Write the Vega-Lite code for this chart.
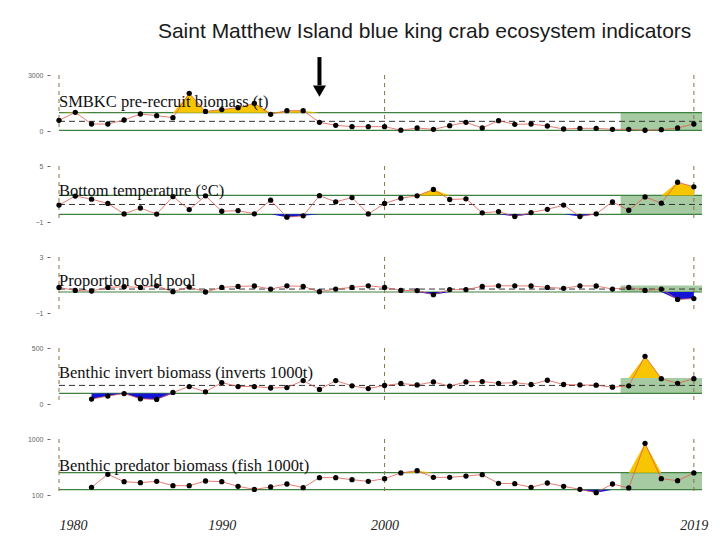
{
  "$schema": "https://vega.github.io/schema/vega-lite/v6.json",
  "description": "Saint Matthew Island blue king crab ecosystem indicators, five stacked panels.",
  "background": "white",
  "padding": {"left": 27, "top": 21, "right": 5, "bottom": 5},
  "title": {
    "text": "Saint Matthew Island blue king crab ecosystem indicators",
    "font": "Liberation Sans",
    "fontSize": 21,
    "fontWeight": "normal",
    "color": "#1a1a1a",
    "anchor": "middle",
    "dx": 57,
    "offset": 13
  },
  "config": {
    "view": {"stroke": null},
    "axisY": {
      "domain": false,
      "grid": false,
      "title": null,
      "format": "d",
      "labelFont": "Liberation Sans",
      "labelFontSize": 7,
      "labelColor": "#666",
      "tickColor": "#666",
      "tickSize": 3,
      "labelPadding": 4,
      "offset": 9
    }
  },
  "datasets": {
    "bands": [
      {"id": "smbkc", "label": "SMBKC pre-recruit biomass (t)", "lower": 30, "mean": 518, "upper": 982},
      {"id": "temp", "label": "Bottom temperature (°C)", "lower": -0.18, "mean": 0.88, "upper": 1.85},
      {"id": "cold", "label": "Proportion cold pool", "lower": 0.5, "mean": 0.71, "upper": 0.96},
      {"id": "invert", "label": "Benthic invert biomass (inverts 1000t)", "lower": 94, "mean": 166, "upper": 232},
      {"id": "pred", "label": "Benthic predator biomass (fish 1000t)", "lower": 186, "mean": 322, "upper": 459}
    ],
    "marks": [{"year": 1980}, {"year": 2000}, {"year": 2019}],
    "series": [
      {"id": "smbkc", "year": 1980, "value": 571}, {"id": "smbkc", "year": 1981, "value": 1000},
      {"id": "smbkc", "year": 1982, "value": 375}, {"id": "smbkc", "year": 1983, "value": 375},
      {"id": "smbkc", "year": 1984, "value": 589}, {"id": "smbkc", "year": 1985, "value": 911},
      {"id": "smbkc", "year": 1986, "value": 821}, {"id": "smbkc", "year": 1987, "value": 714},
      {"id": "smbkc", "year": 1988, "value": 2018}, {"id": "smbkc", "year": 1989, "value": 1050},
      {"id": "smbkc", "year": 1990, "value": 1150}, {"id": "smbkc", "year": 1991, "value": 1250},
      {"id": "smbkc", "year": 1992, "value": 1480}, {"id": "smbkc", "year": 1993, "value": 893},
      {"id": "smbkc", "year": 1994, "value": 1089}, {"id": "smbkc", "year": 1995, "value": 1089},
      {"id": "smbkc", "year": 1996, "value": 464}, {"id": "smbkc", "year": 1997, "value": 304},
      {"id": "smbkc", "year": 1998, "value": 232}, {"id": "smbkc", "year": 1999, "value": 232},
      {"id": "smbkc", "year": 2000, "value": 232}, {"id": "smbkc", "year": 2001, "value": 45},
      {"id": "smbkc", "year": 2002, "value": 161}, {"id": "smbkc", "year": 2003, "value": 89},
      {"id": "smbkc", "year": 2004, "value": 286}, {"id": "smbkc", "year": 2005, "value": 464},
      {"id": "smbkc", "year": 2006, "value": 161}, {"id": "smbkc", "year": 2007, "value": 554},
      {"id": "smbkc", "year": 2008, "value": 357}, {"id": "smbkc", "year": 2009, "value": 375},
      {"id": "smbkc", "year": 2010, "value": 268}, {"id": "smbkc", "year": 2011, "value": 107},
      {"id": "smbkc", "year": 2012, "value": 143}, {"id": "smbkc", "year": 2013, "value": 143},
      {"id": "smbkc", "year": 2014, "value": 89}, {"id": "smbkc", "year": 2015, "value": 89},
      {"id": "smbkc", "year": 2016, "value": 40}, {"id": "smbkc", "year": 2017, "value": 71},
      {"id": "smbkc", "year": 2018, "value": 161}, {"id": "smbkc", "year": 2019, "value": 375},

      {"id": "temp", "year": 1980, "value": 0.81}, {"id": "temp", "year": 1981, "value": 1.78},
      {"id": "temp", "year": 1982, "value": 1.44}, {"id": "temp", "year": 1983, "value": 0.99},
      {"id": "temp", "year": 1984, "value": -0.13}, {"id": "temp", "year": 1985, "value": 0.5},
      {"id": "temp", "year": 1986, "value": -0.15}, {"id": "temp", "year": 1987, "value": 1.72},
      {"id": "temp", "year": 1988, "value": 0.33}, {"id": "temp", "year": 1989, "value": 1.8},
      {"id": "temp", "year": 1990, "value": 0.15}, {"id": "temp", "year": 1991, "value": 0.22},
      {"id": "temp", "year": 1992, "value": -0.12}, {"id": "temp", "year": 1993, "value": 1.34},
      {"id": "temp", "year": 1994, "value": -0.48}, {"id": "temp", "year": 1995, "value": -0.34},
      {"id": "temp", "year": 1996, "value": 1.82}, {"id": "temp", "year": 1997, "value": 1.16},
      {"id": "temp", "year": 1998, "value": 1.62}, {"id": "temp", "year": 1999, "value": -0.14},
      {"id": "temp", "year": 2000, "value": 0.99}, {"id": "temp", "year": 2001, "value": 1.55},
      {"id": "temp", "year": 2002, "value": 1.8}, {"id": "temp", "year": 2003, "value": 2.49},
      {"id": "temp", "year": 2004, "value": 1.41}, {"id": "temp", "year": 2005, "value": 1.48},
      {"id": "temp", "year": 2006, "value": -0.02}, {"id": "temp", "year": 2007, "value": 0.12},
      {"id": "temp", "year": 2008, "value": -0.41}, {"id": "temp", "year": 2009, "value": 0.01},
      {"id": "temp", "year": 2010, "value": 0.36}, {"id": "temp", "year": 2011, "value": 0.81},
      {"id": "temp", "year": 2012, "value": -0.41}, {"id": "temp", "year": 2013, "value": -0.12},
      {"id": "temp", "year": 2014, "value": 1.16}, {"id": "temp", "year": 2015, "value": 0.26},
      {"id": "temp", "year": 2016, "value": 1.69}, {"id": "temp", "year": 2017, "value": 1.02},
      {"id": "temp", "year": 2018, "value": 3.26}, {"id": "temp", "year": 2019, "value": 2.77},

      {"id": "cold", "year": 1980, "value": 0.83}, {"id": "cold", "year": 1981, "value": 0.61},
      {"id": "cold", "year": 1982, "value": 0.57}, {"id": "cold", "year": 1983, "value": 0.83},
      {"id": "cold", "year": 1984, "value": 0.88}, {"id": "cold", "year": 1985, "value": 0.83},
      {"id": "cold", "year": 1986, "value": 0.94}, {"id": "cold", "year": 1987, "value": 0.52},
      {"id": "cold", "year": 1988, "value": 0.86}, {"id": "cold", "year": 1989, "value": 0.5},
      {"id": "cold", "year": 1990, "value": 0.83}, {"id": "cold", "year": 1991, "value": 0.9},
      {"id": "cold", "year": 1992, "value": 0.93}, {"id": "cold", "year": 1993, "value": 0.71},
      {"id": "cold", "year": 1994, "value": 0.94}, {"id": "cold", "year": 1995, "value": 0.9},
      {"id": "cold", "year": 1996, "value": 0.52}, {"id": "cold", "year": 1997, "value": 0.71},
      {"id": "cold", "year": 1998, "value": 0.83}, {"id": "cold", "year": 1999, "value": 0.94},
      {"id": "cold", "year": 2000, "value": 0.83}, {"id": "cold", "year": 2001, "value": 0.61},
      {"id": "cold", "year": 2002, "value": 0.6}, {"id": "cold", "year": 2003, "value": 0.31},
      {"id": "cold", "year": 2004, "value": 0.67}, {"id": "cold", "year": 2005, "value": 0.67},
      {"id": "cold", "year": 2006, "value": 0.9}, {"id": "cold", "year": 2007, "value": 0.94},
      {"id": "cold", "year": 2008, "value": 0.94}, {"id": "cold", "year": 2009, "value": 0.93},
      {"id": "cold", "year": 2010, "value": 0.83}, {"id": "cold", "year": 2011, "value": 0.76},
      {"id": "cold", "year": 2012, "value": 0.94}, {"id": "cold", "year": 2013, "value": 0.93},
      {"id": "cold", "year": 2014, "value": 0.71}, {"id": "cold", "year": 2015, "value": 0.83},
      {"id": "cold", "year": 2016, "value": 0.61}, {"id": "cold", "year": 2017, "value": 0.71},
      {"id": "cold", "year": 2018, "value": -0.03}, {"id": "cold", "year": 2019, "value": 0.03},

      {"id": "invert", "year": 1982, "value": 44}, {"id": "invert", "year": 1983, "value": 71},
      {"id": "invert", "year": 1984, "value": 93}, {"id": "invert", "year": 1985, "value": 47},
      {"id": "invert", "year": 1986, "value": 41}, {"id": "invert", "year": 1987, "value": 103},
      {"id": "invert", "year": 1988, "value": 156}, {"id": "invert", "year": 1989, "value": 109},
      {"id": "invert", "year": 1990, "value": 191}, {"id": "invert", "year": 1991, "value": 156},
      {"id": "invert", "year": 1992, "value": 156}, {"id": "invert", "year": 1993, "value": 143},
      {"id": "invert", "year": 1994, "value": 147}, {"id": "invert", "year": 1995, "value": 209},
      {"id": "invert", "year": 1996, "value": 130}, {"id": "invert", "year": 1997, "value": 209},
      {"id": "invert", "year": 1998, "value": 162}, {"id": "invert", "year": 1999, "value": 138},
      {"id": "invert", "year": 2000, "value": 165}, {"id": "invert", "year": 2001, "value": 183},
      {"id": "invert", "year": 2002, "value": 170}, {"id": "invert", "year": 2003, "value": 197},
      {"id": "invert", "year": 2004, "value": 159}, {"id": "invert", "year": 2005, "value": 197},
      {"id": "invert", "year": 2006, "value": 200}, {"id": "invert", "year": 2007, "value": 185},
      {"id": "invert", "year": 2008, "value": 191}, {"id": "invert", "year": 2009, "value": 174},
      {"id": "invert", "year": 2010, "value": 212}, {"id": "invert", "year": 2011, "value": 174},
      {"id": "invert", "year": 2012, "value": 170}, {"id": "invert", "year": 2013, "value": 168},
      {"id": "invert", "year": 2014, "value": 150}, {"id": "invert", "year": 2015, "value": 162},
      {"id": "invert", "year": 2016, "value": 426}, {"id": "invert", "year": 2017, "value": 226},
      {"id": "invert", "year": 2018, "value": 185}, {"id": "invert", "year": 2019, "value": 226},

      {"id": "pred", "year": 1982, "value": 223}, {"id": "pred", "year": 1983, "value": 432},
      {"id": "pred", "year": 1984, "value": 314}, {"id": "pred", "year": 1985, "value": 298},
      {"id": "pred", "year": 1986, "value": 320}, {"id": "pred", "year": 1987, "value": 250},
      {"id": "pred", "year": 1988, "value": 250}, {"id": "pred", "year": 1989, "value": 325},
      {"id": "pred", "year": 1990, "value": 314}, {"id": "pred", "year": 1991, "value": 239},
      {"id": "pred", "year": 1992, "value": 190}, {"id": "pred", "year": 1993, "value": 229},
      {"id": "pred", "year": 1994, "value": 277}, {"id": "pred", "year": 1995, "value": 218},
      {"id": "pred", "year": 1996, "value": 379}, {"id": "pred", "year": 1997, "value": 379},
      {"id": "pred", "year": 1998, "value": 346}, {"id": "pred", "year": 1999, "value": 320},
      {"id": "pred", "year": 2000, "value": 362}, {"id": "pred", "year": 2001, "value": 455},
      {"id": "pred", "year": 2002, "value": 491}, {"id": "pred", "year": 2003, "value": 384},
      {"id": "pred", "year": 2004, "value": 384}, {"id": "pred", "year": 2005, "value": 405},
      {"id": "pred", "year": 2006, "value": 427}, {"id": "pred", "year": 2007, "value": 287},
      {"id": "pred", "year": 2008, "value": 282}, {"id": "pred", "year": 2009, "value": 223},
      {"id": "pred", "year": 2010, "value": 293}, {"id": "pred", "year": 2011, "value": 239},
      {"id": "pred", "year": 2012, "value": 191}, {"id": "pred", "year": 2013, "value": 138},
      {"id": "pred", "year": 2014, "value": 277}, {"id": "pred", "year": 2015, "value": 213},
      {"id": "pred", "year": 2016, "value": 930}, {"id": "pred", "year": 2017, "value": 362},
      {"id": "pred", "year": 2018, "value": 330}, {"id": "pred", "year": 2019, "value": 454}
    ]
  },
  "spacing": 28,
  "resolve": {"scale": {"y": "independent"}},
  "vconcat": [
    {
      "width": 643,
      "height": 56,
      "resolve": {"scale": {"y": "independent"}},
      "layer": [
        {
          "data": {"name": "bands"},
          "transform": [{"filter": "datum.id == 'smbkc'"}],
          "layer": [
            {
              "mark": {"type": "rect", "color": "#a6cba2"},
              "encoding": {
                "x": {"datum": 2014.5, "type": "quantitative", "scale": {"domain": [1980, 2019.5], "nice": false, "zero": false}, "axis": null},
                "x2": {"datum": 2019.5},
                "y": {"field": "lower", "type": "quantitative", "scale": {"domain": [0, 3000], "nice": false, "zero": false}, "axis": {"values": [0, 1500, 3000]}},
                "y2": {"field": "upper"}
              }
            },
            {
              "mark": {"type": "rule", "color": "#3f7f3f", "strokeWidth": 1.2},
              "encoding": {"x": {"datum": 1980, "type": "quantitative"}, "x2": {"datum": 2019.5}, "y": {"field": "lower", "type": "quantitative"}}
            },
            {
              "mark": {"type": "rule", "color": "#3f7f3f", "strokeWidth": 1.2},
              "encoding": {"x": {"datum": 1980, "type": "quantitative"}, "x2": {"datum": 2019.5}, "y": {"field": "upper", "type": "quantitative"}}
            },
            {
              "mark": {"type": "rule", "color": "#333", "strokeWidth": 1, "strokeDash": [6, 4]},
              "encoding": {"x": {"datum": 1980, "type": "quantitative"}, "x2": {"datum": 2019.5}, "y": {"field": "mean", "type": "quantitative"}}
            },
            {
              "data": {"name": "marks"},
              "mark": {"type": "rule", "color": "#8a7440", "strokeWidth": 1, "strokeDash": [4, 4]},
              "encoding": {"x": {"field": "year", "type": "quantitative"}}
            }
          ]
        },
        {
          "data": {"name": "series"},
          "transform": [{"filter": "datum.id == 'smbkc'"}],
          "mark": {"type": "area", "color": "#f7c600"},
          "encoding": {
            "x": {"field": "year", "type": "quantitative"},
            "y": {"field": "value", "type": "quantitative", "scale": {"domain": [982, 3000], "range": [37.67, 0], "clamp": true, "nice": false, "zero": false}, "axis": null},
            "y2": {"datum": 982}
          }
        },
        {
          "data": {"name": "series"},
          "transform": [{"filter": "datum.id == 'smbkc'"}],
          "encoding": {
            "x": {"field": "year", "type": "quantitative"},
            "y": {"field": "value", "type": "quantitative", "scale": {"domain": [0, 3000], "nice": false, "zero": false}, "axis": null}
          },
          "layer": [
            {"mark": {"type": "line", "color": "#e05a50", "strokeWidth": 0.8}},
            {"mark": {"type": "circle", "color": "black", "size": 28, "opacity": 1}}
          ]
        },
        {
          "data": {"name": "bands"},
          "transform": [{"filter": "datum.id == 'smbkc'"}],
          "mark": {"type": "text", "font": "Liberation Serif", "fontSize": 16.5, "align": "left", "baseline": "alphabetic", "dy": 4, "color": "#111"},
          "encoding": {
            "x": {"datum": 1980, "type": "quantitative"},
            "y": {"datum": 1500, "type": "quantitative", "scale": {"domain": [0, 3000], "nice": false, "zero": false}, "axis": null},
            "text": {"field": "label"}
          }
        },
        {
          "data": {"name": "bands"},
          "transform": [{"filter": "datum.id == 'smbkc'"}],
          "encoding": {
            "x": {"datum": 1996, "type": "quantitative"},
            "y": {"datum": 2140, "type": "quantitative", "scale": {"domain": [0, 3000], "nice": false, "zero": false}, "axis": null}
          },
          "layer": [
            {
              "mark": {"type": "rule", "color": "black", "strokeWidth": 4},
              "encoding": {"y": {"datum": 3960, "type": "quantitative"}, "y2": {"datum": 2450}}
            },
            {
              "mark": {"type": "point", "shape": "triangle-down", "filled": true, "color": "black", "size": 170, "opacity": 1}
            }
          ]
        }
      ]
    },
    {
      "width": 643,
      "height": 56,
      "resolve": {"scale": {"y": "independent"}},
      "layer": [
        {
          "data": {"name": "bands"},
          "transform": [{"filter": "datum.id == 'temp'"}],
          "layer": [
            {
              "mark": {"type": "rect", "color": "#a6cba2"},
              "encoding": {
                "x": {"datum": 2014.5, "type": "quantitative", "scale": {"domain": [1980, 2019.5], "nice": false, "zero": false}, "axis": null},
                "x2": {"datum": 2019.5},
                "y": {"field": "lower", "type": "quantitative", "scale": {"domain": [-1, 5], "nice": false, "zero": false}, "axis": {"values": [-1, 2, 5]}},
                "y2": {"field": "upper"}
              }
            },
            {
              "mark": {"type": "rule", "color": "#3f7f3f", "strokeWidth": 1.2},
              "encoding": {"x": {"datum": 1980, "type": "quantitative"}, "x2": {"datum": 2019.5}, "y": {"field": "lower", "type": "quantitative"}}
            },
            {
              "mark": {"type": "rule", "color": "#3f7f3f", "strokeWidth": 1.2},
              "encoding": {"x": {"datum": 1980, "type": "quantitative"}, "x2": {"datum": 2019.5}, "y": {"field": "upper", "type": "quantitative"}}
            },
            {
              "mark": {"type": "rule", "color": "#333", "strokeWidth": 1, "strokeDash": [6, 4]},
              "encoding": {"x": {"datum": 1980, "type": "quantitative"}, "x2": {"datum": 2019.5}, "y": {"field": "mean", "type": "quantitative"}}
            },
            {
              "data": {"name": "marks"},
              "mark": {"type": "rule", "color": "#8a7440", "strokeWidth": 1, "strokeDash": [4, 4]},
              "encoding": {"x": {"field": "year", "type": "quantitative"}}
            }
          ]
        },
        {
          "data": {"name": "series"},
          "transform": [{"filter": "datum.id == 'temp'"}],
          "mark": {"type": "area", "color": "#f7c600"},
          "encoding": {
            "x": {"field": "year", "type": "quantitative"},
            "y": {"field": "value", "type": "quantitative", "scale": {"domain": [1.85, 5], "range": [29.4, 0], "clamp": true, "nice": false, "zero": false}, "axis": null},
            "y2": {"datum": 1.85}
          }
        },
        {
          "data": {"name": "series"},
          "transform": [{"filter": "datum.id == 'temp'"}],
          "mark": {"type": "area", "color": "#1414d8"},
          "encoding": {
            "x": {"field": "year", "type": "quantitative"},
            "y": {"field": "value", "type": "quantitative", "scale": {"domain": [-1, -0.18], "range": [56, 48.35], "clamp": true, "nice": false, "zero": false}, "axis": null},
            "y2": {"datum": -0.18}
          }
        },
        {
          "data": {"name": "series"},
          "transform": [{"filter": "datum.id == 'temp'"}],
          "encoding": {
            "x": {"field": "year", "type": "quantitative"},
            "y": {"field": "value", "type": "quantitative", "scale": {"domain": [-1, 5], "nice": false, "zero": false}, "axis": null}
          },
          "layer": [
            {"mark": {"type": "line", "color": "#e05a50", "strokeWidth": 0.8}},
            {"mark": {"type": "circle", "color": "black", "size": 28, "opacity": 1}}
          ]
        },
        {
          "data": {"name": "bands"},
          "transform": [{"filter": "datum.id == 'temp'"}],
          "mark": {"type": "text", "font": "Liberation Serif", "fontSize": 16.5, "align": "left", "baseline": "alphabetic", "dy": 2, "color": "#111"},
          "encoding": {
            "x": {"datum": 1980, "type": "quantitative"},
            "y": {"datum": 2, "type": "quantitative", "scale": {"domain": [-1, 5], "nice": false, "zero": false}, "axis": null},
            "text": {"field": "label"}
          }
        }
      ]
    },
    {
      "width": 643,
      "height": 56,
      "resolve": {"scale": {"y": "independent"}},
      "layer": [
        {
          "data": {"name": "bands"},
          "transform": [{"filter": "datum.id == 'cold'"}],
          "layer": [
            {
              "mark": {"type": "rect", "color": "#a6cba2"},
              "encoding": {
                "x": {"datum": 2014.5, "type": "quantitative", "scale": {"domain": [1980, 2019.5], "nice": false, "zero": false}, "axis": null},
                "x2": {"datum": 2019.5},
                "y": {"field": "lower", "type": "quantitative", "scale": {"domain": [-1, 3], "nice": false, "zero": false}, "axis": {"values": [-1, 1, 3]}},
                "y2": {"field": "upper"}
              }
            },
            {
              "mark": {"type": "rule", "color": "#3f7f3f", "strokeWidth": 1.2},
              "encoding": {"x": {"datum": 1980, "type": "quantitative"}, "x2": {"datum": 2019.5}, "y": {"field": "lower", "type": "quantitative"}}
            },
            {
              "mark": {"type": "rule", "color": "#333", "strokeWidth": 1, "strokeDash": [6, 4]},
              "encoding": {"x": {"datum": 1980, "type": "quantitative"}, "x2": {"datum": 2019.5}, "y": {"field": "mean", "type": "quantitative"}}
            },
            {
              "data": {"name": "marks"},
              "mark": {"type": "rule", "color": "#8a7440", "strokeWidth": 1, "strokeDash": [4, 4]},
              "encoding": {"x": {"field": "year", "type": "quantitative"}}
            }
          ]
        },
        {
          "data": {"name": "series"},
          "transform": [{"filter": "datum.id == 'cold'"}],
          "mark": {"type": "area", "color": "#1414d8"},
          "encoding": {
            "x": {"field": "year", "type": "quantitative"},
            "y": {"field": "value", "type": "quantitative", "scale": {"domain": [-1, 0.5], "range": [56, 35], "clamp": true, "nice": false, "zero": false}, "axis": null},
            "y2": {"datum": 0.5}
          }
        },
        {
          "data": {"name": "series"},
          "transform": [{"filter": "datum.id == 'cold'"}],
          "encoding": {
            "x": {"field": "year", "type": "quantitative"},
            "y": {"field": "value", "type": "quantitative", "scale": {"domain": [-1, 3], "nice": false, "zero": false}, "axis": null}
          },
          "layer": [
            {"mark": {"type": "line", "color": "#e05a50", "strokeWidth": 0.8}},
            {"mark": {"type": "circle", "color": "black", "size": 28, "opacity": 1}}
          ]
        },
        {
          "data": {"name": "bands"},
          "transform": [{"filter": "datum.id == 'cold'"}],
          "mark": {"type": "text", "font": "Liberation Serif", "fontSize": 16.5, "align": "left", "baseline": "alphabetic", "dy": 1, "color": "#111"},
          "encoding": {
            "x": {"datum": 1980, "type": "quantitative"},
            "y": {"datum": 1, "type": "quantitative", "scale": {"domain": [-1, 3], "nice": false, "zero": false}, "axis": null},
            "text": {"field": "label"}
          }
        }
      ]
    },
    {
      "width": 643,
      "height": 56,
      "resolve": {"scale": {"y": "independent"}},
      "layer": [
        {
          "data": {"name": "bands"},
          "transform": [{"filter": "datum.id == 'invert'"}],
          "layer": [
            {
              "mark": {"type": "rect", "color": "#a6cba2"},
              "encoding": {
                "x": {"datum": 2014.5, "type": "quantitative", "scale": {"domain": [1980, 2019.5], "nice": false, "zero": false}, "axis": null},
                "x2": {"datum": 2019.5},
                "y": {"field": "lower", "type": "quantitative", "scale": {"domain": [0, 500], "nice": false, "zero": false}, "axis": {"values": [0, 250, 500]}},
                "y2": {"field": "upper"}
              }
            },
            {
              "mark": {"type": "rule", "color": "#3f7f3f", "strokeWidth": 1.2},
              "encoding": {"x": {"datum": 1980, "type": "quantitative"}, "x2": {"datum": 2019.5}, "y": {"field": "lower", "type": "quantitative"}}
            },
            {
              "mark": {"type": "rule", "color": "#333", "strokeWidth": 1, "strokeDash": [6, 4]},
              "encoding": {"x": {"datum": 1980, "type": "quantitative"}, "x2": {"datum": 2019.5}, "y": {"field": "mean", "type": "quantitative"}}
            },
            {
              "data": {"name": "marks"},
              "mark": {"type": "rule", "color": "#8a7440", "strokeWidth": 1, "strokeDash": [4, 4]},
              "encoding": {"x": {"field": "year", "type": "quantitative"}}
            }
          ]
        },
        {
          "data": {"name": "series"},
          "transform": [{"filter": "datum.id == 'invert'"}],
          "mark": {"type": "area", "color": "#f7c600"},
          "encoding": {
            "x": {"field": "year", "type": "quantitative"},
            "y": {"field": "value", "type": "quantitative", "scale": {"domain": [232, 500], "range": [30.02, 0], "clamp": true, "nice": false, "zero": false}, "axis": null},
            "y2": {"datum": 232}
          }
        },
        {
          "data": {"name": "series"},
          "transform": [{"filter": "datum.id == 'invert'"}],
          "mark": {"type": "area", "color": "#1414d8"},
          "encoding": {
            "x": {"field": "year", "type": "quantitative"},
            "y": {"field": "value", "type": "quantitative", "scale": {"domain": [0, 94], "range": [56, 45.47], "clamp": true, "nice": false, "zero": false}, "axis": null},
            "y2": {"datum": 94}
          }
        },
        {
          "data": {"name": "series"},
          "transform": [{"filter": "datum.id == 'invert'"}],
          "encoding": {
            "x": {"field": "year", "type": "quantitative"},
            "y": {"field": "value", "type": "quantitative", "scale": {"domain": [0, 500], "nice": false, "zero": false}, "axis": null}
          },
          "layer": [
            {"mark": {"type": "line", "color": "#e05a50", "strokeWidth": 0.8}},
            {"mark": {"type": "circle", "color": "black", "size": 28, "opacity": 1}}
          ]
        },
        {
          "data": {"name": "bands"},
          "transform": [{"filter": "datum.id == 'invert'"}],
          "mark": {"type": "text", "font": "Liberation Serif", "fontSize": 16.5, "align": "left", "baseline": "alphabetic", "dy": 2, "color": "#111"},
          "encoding": {
            "x": {"datum": 1980, "type": "quantitative"},
            "y": {"datum": 250, "type": "quantitative", "scale": {"domain": [0, 500], "nice": false, "zero": false}, "axis": null},
            "text": {"field": "label"}
          }
        }
      ]
    },
    {
      "width": 643,
      "height": 56,
      "resolve": {"scale": {"y": "independent"}},
      "layer": [
        {
          "data": {"name": "bands"},
          "transform": [{"filter": "datum.id == 'pred'"}],
          "layer": [
            {
              "mark": {"type": "rect", "color": "#a6cba2"},
              "encoding": {
                "x": {
                  "datum": 2014.5, "type": "quantitative",
                  "scale": {"domain": [1980, 2019.5], "nice": false, "zero": false},
                  "axis": {"values": [1980, 1990, 2000, 2019], "format": "d", "title": null, "domain": false, "ticks": false, "grid": false, "labelFont": "Liberation Serif", "labelFontStyle": "italic", "labelFontSize": 14, "labelColor": "#222", "labelPadding": 23}
                },
                "x2": {"datum": 2019.5},
                "y": {"field": "lower", "type": "quantitative", "scale": {"domain": [100, 1000], "nice": false, "zero": false}, "axis": {"values": [100, 550, 1000]}},
                "y2": {"field": "upper"}
              }
            },
            {
              "mark": {"type": "rule", "color": "#3f7f3f", "strokeWidth": 1.2},
              "encoding": {"x": {"datum": 1980, "type": "quantitative"}, "x2": {"datum": 2019.5}, "y": {"field": "lower", "type": "quantitative"}}
            },
            {
              "mark": {"type": "rule", "color": "#3f7f3f", "strokeWidth": 1.2},
              "encoding": {"x": {"datum": 1980, "type": "quantitative"}, "x2": {"datum": 2019.5}, "y": {"field": "upper", "type": "quantitative"}}
            },
            {
              "data": {"name": "marks"},
              "mark": {"type": "rule", "color": "#8a7440", "strokeWidth": 1, "strokeDash": [4, 4]},
              "encoding": {"x": {"field": "year", "type": "quantitative"}}
            }
          ]
        },
        {
          "data": {"name": "series"},
          "transform": [{"filter": "datum.id == 'pred'"}],
          "mark": {"type": "area", "color": "#f7c600"},
          "encoding": {
            "x": {"field": "year", "type": "quantitative"},
            "y": {"field": "value", "type": "quantitative", "scale": {"domain": [459, 1000], "range": [33.66, 0], "clamp": true, "nice": false, "zero": false}, "axis": null},
            "y2": {"datum": 459}
          }
        },
        {
          "data": {"name": "series"},
          "transform": [{"filter": "datum.id == 'pred'"}],
          "mark": {"type": "area", "color": "#1414d8"},
          "encoding": {
            "x": {"field": "year", "type": "quantitative"},
            "y": {"field": "value", "type": "quantitative", "scale": {"domain": [100, 186], "range": [56, 50.65], "clamp": true, "nice": false, "zero": false}, "axis": null},
            "y2": {"datum": 186}
          }
        },
        {
          "data": {"name": "series"},
          "transform": [{"filter": "datum.id == 'pred'"}],
          "encoding": {
            "x": {"field": "year", "type": "quantitative"},
            "y": {"field": "value", "type": "quantitative", "scale": {"domain": [100, 1000], "nice": false, "zero": false}, "axis": null}
          },
          "layer": [
            {"mark": {"type": "line", "color": "#e05a50", "strokeWidth": 0.8}},
            {"mark": {"type": "circle", "color": "black", "size": 28, "opacity": 1}}
          ]
        },
        {
          "data": {"name": "bands"},
          "transform": [{"filter": "datum.id == 'pred'"}],
          "mark": {"type": "text", "font": "Liberation Serif", "fontSize": 16.5, "align": "left", "baseline": "alphabetic", "dy": 4, "color": "#111"},
          "encoding": {
            "x": {"datum": 1980, "type": "quantitative"},
            "y": {"datum": 550, "type": "quantitative", "scale": {"domain": [100, 1000], "nice": false, "zero": false}, "axis": null},
            "text": {"field": "label"}
          }
        }
      ]
    }
  ]
}
